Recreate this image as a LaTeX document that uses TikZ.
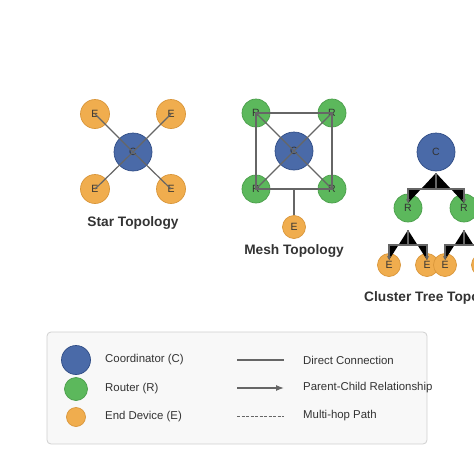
\documentclass[tikz,border=0pt]{standalone}
\usepackage{fontspec}
\setmainfont{Liberation Sans}
\usetikzlibrary{positioning,arrows.meta}

\definecolor{coordblue}{HTML}{4A6AA8}
\definecolor{coordedge}{HTML}{2F4C85}
\definecolor{routergreen}{HTML}{5CB85C}
\definecolor{routeredge}{HTML}{4A9E4A}
\definecolor{endorange}{HTML}{F0AD4E}
\definecolor{endedge}{HTML}{D9963A}
\definecolor{linkgray}{HTML}{666666}
\definecolor{textgray}{HTML}{333333}
\definecolor{legendfill}{HTML}{F8F8F8}
\definecolor{legendedge}{HTML}{D0D0D0}

\tikzset{
  device/.style={circle,inner sep=0pt,line width=0.7pt,text=textgray,font=\fontsize{10.5}{12}\selectfont},
  coordnode/.style={device,fill=coordblue,draw=coordedge,minimum size=38pt},
  routernode/.style={device,fill=routergreen,draw=routeredge,minimum size=28pt},
  endnode/.style={device,fill=endorange,draw=endedge,minimum size=29pt},
  smallend/.style={endnode,minimum size=23pt},
  link/.style={draw=linkgray,line width=1.2pt},
  treelink/.style={link,-{Stealth[length=4pt,width=4pt]}},
  treefill/.style={fill=black},
  title/.style={text=textgray,font=\bfseries\fontsize{13.7}{16}\selectfont},
  legendtext/.style={anchor=west,inner sep=0pt,text=textgray,font=\fontsize{11.4}{13}\selectfont}
}

\begin{document}
\begin{tikzpicture}[x=1pt,y=-1pt,on grid]

  \useasboundingbox (0,0) rectangle (474,474);
  \clip (0,0) rectangle (474,474);

  % Star topology
  \node [coordnode] (c1) at (133,152) {C};
  \node [endnode,above left=38pt and 38pt of c1] (s1) {E};
  \node [endnode,above right=38pt and 38pt of c1] (s2) {E};
  \node [endnode,below left=37pt and 38pt of c1] (s3) {E};
  \node [endnode,below right=37pt and 38pt of c1] (s4) {E};
  \draw [link] (s1.center) -- (c1.center);
  \draw [link] (s2.center) -- (c1.center);
  \draw [link] (s3.center) -- (c1.center);
  \draw [link] (s4.center) -- (c1.center);
  \node [title,below=71pt of c1] (startitle) {Star Topology};

  % Mesh topology
  \node [coordnode] (c2) at (294,151) {C};
  \node [routernode,above left=38pt and 38pt of c2] (m1) {R};
  \node [routernode,above right=38pt and 38pt of c2] (m2) {R};
  \node [routernode,below left=38pt and 38pt of c2] (m3) {R};
  \node [routernode,below right=38pt and 38pt of c2] (m4) {R};
  \node [coordinate,below=38pt of c2] (mb) {};
  \draw [link] (m1.center) -- (m2.center) -- (m4.center) -- (m3.center) -- cycle;
  \draw [link] (m1.center) -- (c2.center);
  \draw [link] (m2.center) -- (c2.center);
  \draw [link] (m3.center) -- (c2.center);
  \draw [link] (m4.center) -- (c2.center);
  \node [smallend,below=76pt of c2] (me) {E};
  \draw [link] (me.north) -- (mb);
  \node [title,below=100pt of c2] (meshtitle) {Mesh Topology};

  % Cluster tree topology
  \node [coordnode] (c3) at (436,152) {C};
  \node [routernode,below left=56pt and 28pt of c3] (t1) {R};
  \node [routernode,below right=56pt and 28pt of c3] (t2) {R};
  \node [smallend,below left=57pt and 19pt of t1] (t11) {E};
  \node [smallend,below right=57pt and 19pt of t1] (t12) {E};
  \node [smallend,below left=57pt and 19pt of t2] (t21) {E};
  \node [smallend,below right=57pt and 19pt of t2] (t22) {E};
  \node [title,below=146pt of c3] (treetitle) {Cluster Tree Topology};

  % C to routers
  \node [coordinate,below=21pt of c3] (c3a) {};
  \node [coordinate,below=37pt of c3] (c3b) {};
  \node [coordinate,below left=37pt and 28pt of c3] (t1a) {};
  \node [coordinate,above=5pt of t1] (t1b) {};
  \node [coordinate,below right=37pt and 28pt of c3] (t2a) {};
  \node [coordinate,above=5pt of t2] (t2b) {};
  \fill [treefill] (c3a) -- (c3b) -- (t1a) -- (t1b) -- cycle;
  \fill [treefill] (c3a) -- (c3b) -- (t2a) -- (t2b) -- cycle;
  \draw [treelink] (c3a) -- (c3b) -- (t1a) -- (t1b);
  \draw [treelink] (c3a) -- (c3b) -- (t2a) -- (t2b);

  % Left router to end devices
  \node [coordinate,below=22pt of t1] (t1c) {};
  \node [coordinate,below=37pt of t1] (t1d) {};
  \node [coordinate,below left=37pt and 19pt of t1] (t11a) {};
  \node [coordinate,above=5pt of t11] (t11b) {};
  \node [coordinate,below right=37pt and 19pt of t1] (t12a) {};
  \node [coordinate,above=5pt of t12] (t12b) {};
  \fill [treefill] (t1c) -- (t1d) -- (t11a) -- (t11b) -- cycle;
  \fill [treefill] (t1c) -- (t1d) -- (t12a) -- (t12b) -- cycle;
  \draw [treelink] (t1c) -- (t1d) -- (t11a) -- (t11b);
  \draw [treelink] (t1c) -- (t1d) -- (t12a) -- (t12b);

  % Right router to end devices
  \node [coordinate,below=22pt of t2] (t2c) {};
  \node [coordinate,below=37pt of t2] (t2d) {};
  \node [coordinate,below left=37pt and 19pt of t2] (t21a) {};
  \node [coordinate,above=5pt of t21] (t21b) {};
  \node [coordinate,below right=37pt and 19pt of t2] (t22a) {};
  \node [coordinate,above=5pt of t22] (t22b) {};
  \fill [treefill] (t2c) -- (t2d) -- (t21a) -- (t21b) -- cycle;
  \fill [treefill] (t2c) -- (t2d) -- (t22a) -- (t22b) -- cycle;
  \draw [treelink] (t2c) -- (t2d) -- (t21a) -- (t21b);
  \draw [treelink] (t2c) -- (t2d) -- (t22a) -- (t22b);

  % Legend
  \node [draw=legendedge,fill=legendfill,line width=0.8pt,rounded corners=4pt,
         minimum width=380pt,minimum height=112pt] (legend) at (237,388) {};
  \node [coordnode,minimum size=29pt] (lc) at (76,360) {};
  \node [routernode,minimum size=23pt] (lr) at (76,389) {};
  \node [endnode,minimum size=19pt] (le) at (76,417) {};
  \node [legendtext] (lctext) at (105,360) {Coordinator (C)};
  \node [legendtext] (lrtext) at (105,389) {Router (R)};
  \node [legendtext] (letext) at (105,417) {End Device (E)};

  \node [coordinate] (la1) at (237,360) {};
  \node [coordinate,right=47pt of la1] (lb1) {};
  \node [coordinate] (la2) at (237,388) {};
  \node [coordinate,right=47pt of la2] (lb2) {};
  \node [coordinate] (la3) at (237,416) {};
  \node [coordinate,right=47pt of la3] (lb3) {};
  \draw [link] (la1) -- (lb1);
  \draw [link,-{Latex[length=8pt,width=6pt]}] (la2) -- (lb2);
  \draw [draw=linkgray,line width=0.9pt,dash pattern=on 3pt off 1.5pt] (la3) -- (lb3);
  \node [legendtext] (l1text) at (303,360) {Direct Connection};
  \node [legendtext] (l2text) at (303,388) {Parent-Child Relationship};
  \node [legendtext] (l3text) at (303,416) {Multi-hop Path};

\end{tikzpicture}
\end{document}
